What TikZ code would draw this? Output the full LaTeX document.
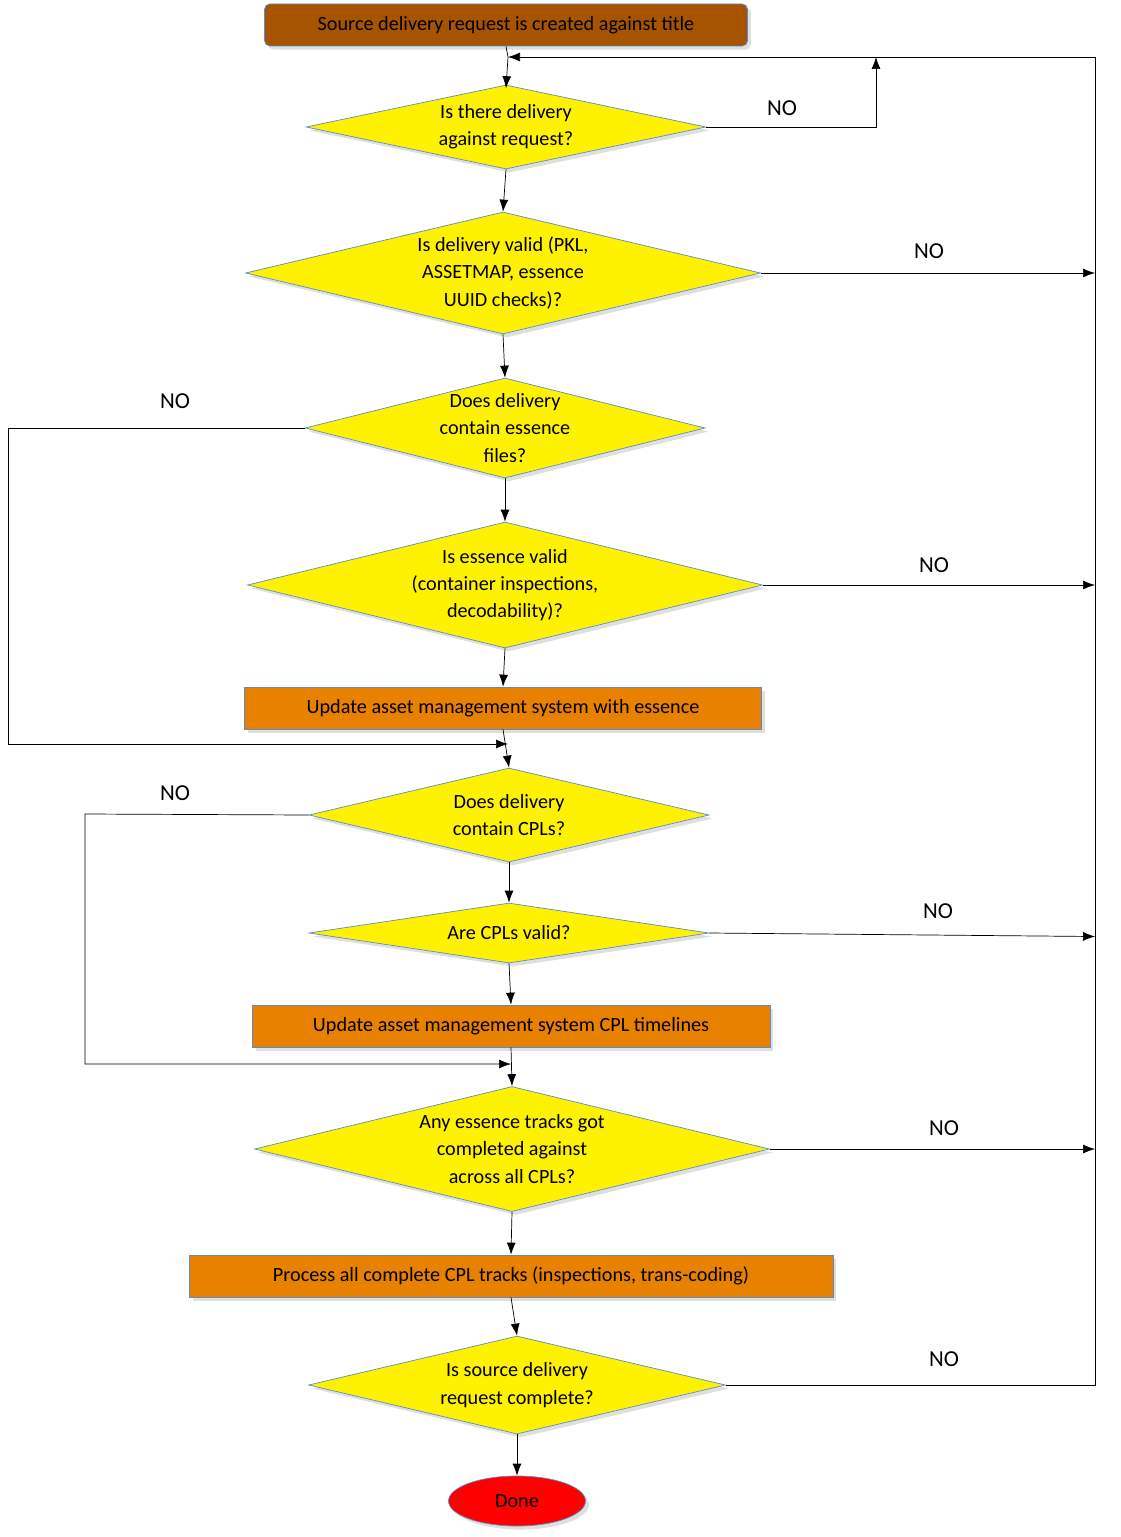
\documentclass[tikz,border=0pt]{standalone}
\usepackage{fontspec}
\setmainfont{Carlito}
\usetikzlibrary{shapes.geometric,arrows.meta,shadows}
\definecolor{srcbrown}{RGB}{166,84,0}
\definecolor{actorange}{RGB}{232,128,0}
\definecolor{edgeblue}{RGB}{91,140,205}
\tikzset{
  dec/.style={diamond, draw=edgeblue, fill=yellow, inner sep=0pt, drop shadow={opacity=0.25,shadow xshift=2pt,shadow yshift=-2pt}},
  act/.style={rectangle, draw=edgeblue, fill=actorange, minimum height=0.84cm, drop shadow={opacity=0.25,shadow xshift=2pt,shadow yshift=-2pt}},
  txt/.style={align=center, font=\fontsize{11.5}{15.5}\selectfont},
  nolab/.style={font=\fontsize{13}{15}\selectfont},
  arr/.style={-{Latex[length=2.4mm,width=1.8mm]}}
}
\begin{document}
\begin{tikzpicture}[x=0.02cm, y=-0.02cm]
  \useasboundingbox (0,0) rectangle (1121,1537);
  % nodes
  \node[act, fill=srcbrown, rounded corners=3pt, minimum width=9.66cm] (src) at (506,25) {};
  \node[txt] at (src) {Source delivery request is created against title};
  \node[dec, minimum width=8cm, minimum height=1.68cm] (d1) at (506,127) {};
  \node[txt] at (d1) {Is there delivery\\against request?};
  \node[dec, minimum width=10.3cm, minimum height=2.44cm] (d2) at (503,273) {};
  \node[txt] at (d2) {Is delivery valid (PKL,\\ASSETMAP, essence\\UUID checks)?};
  \node[dec, minimum width=8cm, minimum height=2cm] (d3) at (505,428) {};
  \node[txt] at (d3) {Does delivery\\contain essence\\files?};
  \node[dec, minimum width=10.3cm, minimum height=2.52cm] (d4) at (505,585) {};
  \node[txt] at (d4) {Is essence valid\\(container inspections,\\decodability)?};
  \node[act, minimum width=10.34cm] (b2) at (503,708) {};
  \node[txt] at (b2) {Update asset management system with essence};
  \node[dec, minimum width=8cm, minimum height=1.88cm] (d5) at (509,815) {};
  \node[txt] at (d5) {Does delivery\\contain CPLs?};
  \node[dec, minimum width=8cm, minimum height=1.2cm] (d6) at (509,933) {};
  \node[txt] at (d6) {Are CPLs valid?};
  \node[act, minimum width=10.36cm] (b3) at (511,1026) {};
  \node[txt] at (b3) {Update asset management system CPL timelines};
  \node[dec, minimum width=10.3cm, minimum height=2.5cm] (d7) at (512,1149) {};
  \node[txt] at (d7) {Any essence tracks got\\completed against\\across all CPLs?};
  \node[act, minimum width=12.88cm] (b4) at (511,1276) {};
  \node[txt] at (b4) {Process all complete CPL tracks (inspections, trans-coding)};
  \node[dec, minimum width=8.34cm, minimum height=1.96cm] (d8) at (517,1385) {};
  \node[txt] at (d8) {Is source delivery\\request complete?};
  \node[ellipse, draw=edgeblue, fill=red, minimum width=2.74cm, minimum height=1cm, drop shadow={opacity=0.25,shadow xshift=2pt,shadow yshift=-2pt}] (done) at (517,1501) {};
  \node[txt] at (done) {Done};
  % helper points
  \coordinate (top) at (508,57);
  \coordinate (rtop) at (1095,57);
  \coordinate (loop1) at (876,57);
  \coordinate (m1) at (508,744);
  \coordinate (m2) at (511,1064);
  % main flow
  \draw[arr] (src.south) -- (top) -- ([yshift=-2pt]d1.north);
  \draw[arr] (d1.south) -- (d2.north);
  \draw[arr] (d2.south) -- (d3.north);
  \draw[arr] (d3.south) -- (d4.north);
  \draw[arr] (d4.south) -- (b2.north);
  \draw[arr] (b2.south) -- (d5.north);
  \draw[arr] (d5.south) -- (d6.north);
  \draw[arr] (d6.south) -- (b3.north);
  \draw[arr] (b3.south) -- (d7.north);
  \draw[arr] (d7.south) -- (b4.north);
  \draw[arr] (b4.south) -- (d8.north);
  \draw[arr] (d8.south) -- (done.north);
  % NO branches
  \draw[arr] (d1.east) -| (loop1);
  \node[nolab] at (782,108) {NO};
  \draw[arr] (d8.east) -| (rtop) -- (top);
  \node[nolab] at (944,1359) {NO};
  \draw[arr] (d2.east) -- (d2.east -| rtop);
  \node[nolab] at (929,251) {NO};
  \draw[arr] (d4.east) -- (d4.east -| rtop);
  \node[nolab] at (934,565) {NO};
  \draw[arr] (d6.east) -- ([yshift=-2pt]d6.east -| rtop);
  \node[nolab] at (938,911) {NO};
  \draw[arr] (d7.east) -- (d7.east -| rtop);
  \node[nolab] at (944,1128) {NO};
  \draw[arr] (d3.west) -- (8,428) |- (m1);
  \node[nolab] at (175,401) {NO};
  \draw[arr] (d5.west) -- (85,814) |- (m2);
  \node[nolab] at (175,793) {NO};
\end{tikzpicture}
\end{document}
